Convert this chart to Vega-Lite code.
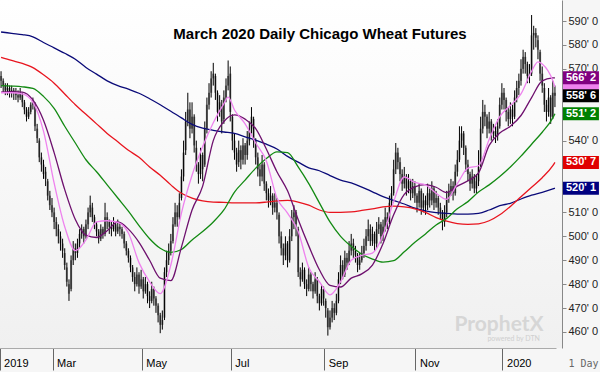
{
"$schema": "https://vega.github.io/schema/vega-lite/v6.json",
"width": 562, "height": 348,
"autosize": {"type": "none"},
"padding": {"left": 0, "top": 0, "right": 38, "bottom": 24},
"background": "#f6f6f6",
"title": {"text": "March 2020 Daily Chicago Wheat Futures", "font": "Liberation Sans", "fontSize": 15, "fontWeight": "bold", "color": "#000000", "anchor": "middle", "frame": "group", "dx": 39, "dy": 42, "offset": 0},
"config": {
  "view": {"stroke": null, "fill": {"gradient": "linear", "x1": 0, "y1": 0, "x2": 0, "y2": 1, "stops": [{"offset": 0, "color": "#ffffff"}, {"offset": 1, "color": "#f0f0f0"}]}},
  "axis": {"grid": false},
  "axisY": {"grid": false, "tickSize": 4, "tickColor": "#888888", "domainColor": "#888888", "labelFont": "Liberation Sans", "labelFontSize": 11, "labelColor": "#222222", "labelPadding": 2}
},
"datasets": {
"px": [
{"d":"2019-01-24","o":567,"h":569,"l":562,"c":565,"k":560,"p":560.3,"g":563,"r":574.8,"n":585.4},
{"d":"2019-01-25","o":565,"h":566,"l":560,"c":563},
{"d":"2019-01-28","o":563,"h":564,"l":559,"c":561},
{"d":"2019-01-29","o":561,"h":564,"l":559,"c":562},
{"d":"2019-01-30","o":562,"h":563,"l":558,"c":560},
{"d":"2019-01-31","o":560,"h":563,"l":558,"c":561,"k":560,"p":560.5,"g":562.8,"r":573.5,"n":584.8},
{"d":"2019-02-01","o":561,"h":562,"l":557,"c":560},
{"d":"2019-02-04","o":560,"h":562,"l":557,"c":559},
{"d":"2019-02-05","o":559,"h":561,"l":556,"c":558},
{"d":"2019-02-06","o":558,"h":562,"l":557,"c":560},
{"d":"2019-02-07","o":559,"h":560,"l":554,"c":556,"k":559.5,"p":560.3,"g":562.5,"r":572.3,"n":584.3},
{"d":"2019-02-08","o":556,"h":557,"l":551,"c":553},
{"d":"2019-02-11","o":553,"h":554,"l":548,"c":550},
{"d":"2019-02-12","o":550,"h":554,"l":549,"c":552},
{"d":"2019-02-13","o":552,"h":556,"l":551,"c":555},
{"d":"2019-02-14","o":555,"h":558,"l":553,"c":557,"k":556,"p":557,"g":561.8,"r":570.5,"n":583.4},
{"d":"2019-02-15","o":555,"h":556,"l":544,"c":546},
{"d":"2019-02-19","o":545,"h":547,"l":539,"c":541},
{"d":"2019-02-20","o":540,"h":541,"l":531,"c":533},
{"d":"2019-02-21","o":533,"h":535,"l":527,"c":530},
{"d":"2019-02-22","o":530,"h":532,"l":524,"c":526,"k":544,"p":548.5,"g":558.5,"r":567.5,"n":581},
{"d":"2019-02-25","o":527,"h":529,"l":521,"c":524},
{"d":"2019-02-26","o":523,"h":524,"l":515,"c":517},
{"d":"2019-02-27","o":517,"h":519,"l":511,"c":513},
{"d":"2019-02-28","o":513,"h":516,"l":508,"c":510},
{"d":"2019-03-01","o":510,"h":512,"l":503,"c":506,"k":522.3,"p":535,"g":553.5,"r":564,"n":578.8},
{"d":"2019-03-04","o":506,"h":508,"l":500,"c":503},
{"d":"2019-03-05","o":503,"h":505,"l":497,"c":500},
{"d":"2019-03-06","o":500,"h":502,"l":494,"c":497},
{"d":"2019-03-07","o":497,"h":499,"l":491,"c":494},
{"d":"2019-03-08","o":493,"h":495,"l":486,"c":488,"k":504,"p":519.5,"g":546,"r":559.5,"n":576.5},
{"d":"2019-03-11","o":487,"h":489,"l":479,"c":481},
{"d":"2019-03-12","o":480,"h":482,"l":473,"c":476},
{"d":"2019-03-13","o":478,"h":492,"l":477,"c":490},
{"d":"2019-03-14","o":490,"h":498,"l":488,"c":495},
{"d":"2019-03-15","o":495,"h":497,"l":490,"c":493,"k":494,"p":507,"g":539,"r":555,"n":574},
{"d":"2019-03-18","o":493,"h":499,"l":491,"c":497},
{"d":"2019-03-19","o":497,"h":503,"l":495,"c":501},
{"d":"2019-03-20","o":501,"h":505,"l":499,"c":503},
{"d":"2019-03-21","o":503,"h":504,"l":497,"c":500},
{"d":"2019-03-22","o":500,"h":507,"l":499,"c":505,"k":498.5,"p":500.5,"g":532,"r":551,"n":570.6},
{"d":"2019-03-25","o":505,"h":512,"l":503,"c":510},
{"d":"2019-03-26","o":510,"h":517,"l":508,"c":513},
{"d":"2019-03-27","o":512,"h":514,"l":506,"c":508},
{"d":"2019-03-28","o":508,"h":509,"l":503,"c":505},
{"d":"2019-03-29","o":505,"h":506,"l":500,"c":502,"k":506,"p":499.5,"g":527,"r":547,"n":567.8},
{"d":"2019-04-01","o":502,"h":503,"l":497,"c":499},
{"d":"2019-04-02","o":499,"h":505,"l":498,"c":503},
{"d":"2019-04-03","o":503,"h":504,"l":499,"c":501},
{"d":"2019-04-04","o":501,"h":514,"l":500,"c":508},
{"d":"2019-04-05","o":508,"h":510,"l":503,"c":506,"k":506.5,"p":502.3,"g":521.5,"r":543,"n":565},
{"d":"2019-04-08","o":506,"h":507,"l":501,"c":504},
{"d":"2019-04-09","o":504,"h":506,"l":500,"c":503},
{"d":"2019-04-10","o":503,"h":508,"l":502,"c":505},
{"d":"2019-04-11","o":505,"h":506,"l":500,"c":502},
{"d":"2019-04-12","o":502,"h":507,"l":501,"c":504,"k":505.8,"p":506,"g":516,"r":539.5,"n":563},
{"d":"2019-04-15","o":504,"h":506,"l":500,"c":503},
{"d":"2019-04-16","o":503,"h":504,"l":499,"c":501},
{"d":"2019-04-17","o":501,"h":502,"l":495,"c":497},
{"d":"2019-04-18","o":497,"h":498,"l":492,"c":494},
{"d":"2019-04-22","o":494,"h":495,"l":489,"c":491,"k":501.4,"p":503,"g":510.5,"r":536,"n":561.5},
{"d":"2019-04-23","o":491,"h":492,"l":485,"c":487},
{"d":"2019-04-24","o":487,"h":488,"l":481,"c":483},
{"d":"2019-04-25","o":483,"h":485,"l":477,"c":480},
{"d":"2019-04-26","o":480,"h":487,"l":479,"c":484},
{"d":"2019-04-29","o":484,"h":485,"l":476,"c":479,"k":489,"p":497.5,"g":504.5,"r":533,"n":559.8},
{"d":"2019-04-30","o":479,"h":486,"l":478,"c":482},
{"d":"2019-05-01","o":482,"h":483,"l":474,"c":477},
{"d":"2019-05-02","o":477,"h":483,"l":476,"c":480},
{"d":"2019-05-03","o":480,"h":481,"l":472,"c":475},
{"d":"2019-05-06","o":475,"h":477,"l":470,"c":473,"k":481,"p":490,"g":499,"r":529,"n":557.5},
{"d":"2019-05-07","o":473,"h":481,"l":472,"c":478},
{"d":"2019-05-08","o":478,"h":479,"l":471,"c":474},
{"d":"2019-05-09","o":474,"h":475,"l":468,"c":471},
{"d":"2019-05-10","o":471,"h":472,"l":464,"c":467},
{"d":"2019-05-13","o":467,"h":468,"l":459.5,"c":463,"k":476,"p":482.5,"g":495,"r":525.5,"n":555},
{"d":"2019-05-14","o":463,"h":469,"l":461,"c":465},
{"d":"2019-05-15","o":466,"h":487,"l":465,"c":485},
{"d":"2019-05-16","o":485,"h":494,"l":483,"c":490},
{"d":"2019-05-17","o":490,"h":497,"l":488,"c":494},
{"d":"2019-05-20","o":494,"h":501,"l":492,"c":498,"k":488,"p":481.5,"g":493.3,"r":521.5,"n":552.3},
{"d":"2019-05-21","o":498,"h":508,"l":497,"c":505},
{"d":"2019-05-22","o":505,"h":514,"l":504,"c":510},
{"d":"2019-05-23","o":510,"h":513,"l":504,"c":508},
{"d":"2019-05-24","o":508,"h":518,"l":507,"c":514},
{"d":"2019-05-28","o":516,"h":528,"l":515,"c":525,"k":509.7,"p":495.5,"g":494.5,"r":518,"n":549.5},
{"d":"2019-05-29","o":525,"h":540,"l":523,"c":535},
{"d":"2019-05-30","o":536,"h":552,"l":534,"c":548},
{"d":"2019-05-31","o":548,"h":560,"l":546,"c":553},
{"d":"2019-06-03","o":553,"h":556,"l":541,"c":545},
{"d":"2019-06-04","o":545,"h":556,"l":543,"c":550,"k":525.5,"p":511,"g":498.5,"r":516,"n":546.8},
{"d":"2019-06-05","o":550,"h":551,"l":535,"c":538},
{"d":"2019-06-06","o":537,"h":540,"l":527,"c":530},
{"d":"2019-06-07","o":530,"h":531,"l":522,"c":526},
{"d":"2019-06-10","o":526,"h":537,"l":524,"c":534},
{"d":"2019-06-11","o":534,"h":535,"l":523,"c":528,"k":537.5,"p":521,"g":502,"r":514.8,"n":545.2},
{"d":"2019-06-12","o":530,"h":548,"l":529,"c":545},
{"d":"2019-06-13","o":545,"h":558,"l":543,"c":555},
{"d":"2019-06-14","o":555,"h":564,"l":553,"c":560},
{"d":"2019-06-17","o":560,"h":569,"l":558,"c":566},
{"d":"2019-06-18","o":566,"h":572.5,"l":563,"c":568,"k":547.5,"p":540,"g":506,"r":514.3,"n":544.3},
{"d":"2019-06-19","o":567,"h":568,"l":557,"c":560},
{"d":"2019-06-20","o":560,"h":561,"l":548,"c":552},
{"d":"2019-06-21","o":552,"h":559,"l":550,"c":556},
{"d":"2019-06-24","o":555,"h":557,"l":543,"c":548},
{"d":"2019-06-25","o":549,"h":561,"l":547,"c":558,"k":555.5,"p":548,"g":511,"r":514.2,"n":543.6},
{"d":"2019-06-26","o":558,"h":566,"l":556,"c":563},
{"d":"2019-06-27","o":563,"h":573.5,"l":561,"c":567,"k":558.2},
{"d":"2019-06-28","o":568,"h":571,"l":548,"c":552},
{"d":"2019-07-01","o":550,"h":551,"l":536,"c":540},
{"d":"2019-07-02","o":540,"h":543,"l":532,"c":535,"k":552.8,"p":550.8,"g":518.5,"r":514,"n":543},
{"d":"2019-07-03","o":535,"h":537,"l":527,"c":530},
{"d":"2019-07-05","o":531,"h":540,"l":529,"c":536},
{"d":"2019-07-08","o":536,"h":538,"l":528,"c":532},
{"d":"2019-07-09","o":532,"h":541,"l":530,"c":538},
{"d":"2019-07-10","o":538,"h":539,"l":530,"c":534,"k":547,"p":549,"g":523.5,"r":514,"n":541.6},
{"d":"2019-07-11","o":534,"h":544,"l":532,"c":540},
{"d":"2019-07-12","o":540,"h":548,"l":538,"c":545},
{"d":"2019-07-15","o":545,"h":554,"l":543,"c":550},
{"d":"2019-07-16","o":549,"h":550,"l":537,"c":540},
{"d":"2019-07-17","o":540,"h":541,"l":530,"c":533,"k":539,"p":545,"g":528.5,"r":514,"n":540.2},
{"d":"2019-07-18","o":533,"h":535,"l":525,"c":528},
{"d":"2019-07-19","o":528,"h":530,"l":521,"c":525},
{"d":"2019-07-22","o":525,"h":534,"l":523,"c":530},
{"d":"2019-07-23","o":530,"h":531,"l":519,"c":522},
{"d":"2019-07-24","o":522,"h":523,"l":515,"c":518,"k":531.5,"p":536.5,"g":532.5,"r":514.3,"n":538.5},
{"d":"2019-07-25","o":518,"h":520,"l":512,"c":515},
{"d":"2019-07-26","o":515,"h":521,"l":513,"c":517},
{"d":"2019-07-29","o":517,"h":518,"l":509,"c":512},
{"d":"2019-07-30","o":512,"h":518,"l":510,"c":514},
{"d":"2019-07-31","o":514,"h":516,"l":507,"c":510,"k":516,"p":527,"g":535.3,"r":514.8,"n":536.5},
{"d":"2019-08-01","o":509,"h":510,"l":497,"c":500},
{"d":"2019-08-02","o":500,"h":502,"l":492,"c":495},
{"d":"2019-08-05","o":495,"h":497,"l":488,"c":492},
{"d":"2019-08-06","o":492,"h":500,"l":490,"c":497},
{"d":"2019-08-07","o":497,"h":498,"l":487,"c":490,"k":509.7,"p":519,"g":535,"r":515,"n":533.4},
{"d":"2019-08-08","o":490,"h":503,"l":489,"c":500},
{"d":"2019-08-09","o":500,"h":511,"l":498,"c":508},
{"d":"2019-08-12","o":508,"h":513,"l":503,"c":510},
{"d":"2019-08-13","o":510,"h":511,"l":500,"c":505},
{"d":"2019-08-14","o":503,"h":504,"l":483,"c":485,"k":502,"p":507,"g":529,"r":514.3,"n":531},
{"d":"2019-08-15","o":485,"h":487,"l":479,"c":482},
{"d":"2019-08-16","o":482,"h":489,"l":481,"c":486},
{"d":"2019-08-19","o":486,"h":487,"l":478,"c":480},
{"d":"2019-08-20","o":480,"h":482,"l":475,"c":478},
{"d":"2019-08-21","o":478,"h":487,"l":477,"c":484,"k":487,"p":496,"g":522,"r":513,"n":528.6},
{"d":"2019-08-22","o":484,"h":485,"l":477,"c":480},
{"d":"2019-08-23","o":480,"h":481,"l":474,"c":477},
{"d":"2019-08-26","o":477,"h":485,"l":476,"c":482},
{"d":"2019-08-27","o":482,"h":483,"l":472,"c":475},
{"d":"2019-08-28","o":475,"h":476,"l":469,"c":472,"k":481,"p":486,"g":514,"r":511,"n":527.4},
{"d":"2019-08-29","o":472,"h":480,"l":471,"c":478},
{"d":"2019-08-30","o":478,"h":479,"l":471,"c":474},
{"d":"2019-09-03","o":473,"h":474,"l":466,"c":470},
{"d":"2019-09-04","o":469,"h":470,"l":458.5,"c":462},
{"d":"2019-09-05","o":462,"h":469,"l":461,"c":466,"k":475.5,"p":479.5,"g":506,"r":510,"n":525.4},
{"d":"2019-09-06","o":466,"h":473,"l":464,"c":470},
{"d":"2019-09-09","o":470,"h":472,"l":465,"c":468},
{"d":"2019-09-10","o":468,"h":476,"l":467,"c":473},
{"d":"2019-09-11","o":473,"h":485,"l":472,"c":482},
{"d":"2019-09-12","o":482,"h":492,"l":480,"c":488,"k":481,"p":478.8,"g":500,"r":510,"n":523.5},
{"d":"2019-09-13","o":488,"h":490,"l":482,"c":484},
{"d":"2019-09-16","o":484,"h":494,"l":483,"c":491},
{"d":"2019-09-17","o":491,"h":493,"l":486,"c":489},
{"d":"2019-09-18","o":489,"h":498,"l":488,"c":494},
{"d":"2019-09-19","o":494,"h":501,"l":492,"c":497,"k":490,"p":482.5,"g":495.8,"r":510.2,"n":522.3},
{"d":"2019-09-20","o":497,"h":499,"l":491,"c":494},
{"d":"2019-09-23","o":494,"h":496,"l":489,"c":492},
{"d":"2019-09-24","o":492,"h":493,"l":485,"c":488},
{"d":"2019-09-25","o":488,"h":493,"l":486,"c":490},
{"d":"2019-09-26","o":490,"h":496,"l":489,"c":493,"k":492,"p":484.3,"g":492.5,"r":510.8,"n":520.6},
{"d":"2019-09-27","o":493,"h":499,"l":491,"c":496},
{"d":"2019-09-30","o":496,"h":503,"l":494,"c":500},
{"d":"2019-10-01","o":500,"h":507,"l":498,"c":503},
{"d":"2019-10-02","o":503,"h":505,"l":496,"c":498},
{"d":"2019-10-03","o":498,"h":504,"l":496,"c":501,"k":493,"p":488,"g":490.5,"r":511.5,"n":518.6},
{"d":"2019-10-04","o":501,"h":502,"l":494,"c":497},
{"d":"2019-10-07","o":497,"h":506,"l":495,"c":503},
{"d":"2019-10-08","o":503,"h":508,"l":501,"c":505},
{"d":"2019-10-09","o":505,"h":506,"l":497,"c":500},
{"d":"2019-10-10","o":500,"h":507,"l":498,"c":504,"k":500.5,"p":497,"g":489.2,"r":512.3,"n":516.6},
{"d":"2019-10-11","o":504,"h":512,"l":502,"c":508},
{"d":"2019-10-14","o":508,"h":510,"l":503,"c":506},
{"d":"2019-10-15","o":506,"h":517,"l":505,"c":514},
{"d":"2019-10-16","o":514,"h":521,"l":512,"c":518},
{"d":"2019-10-17","o":518,"h":532,"l":517,"c":528,"k":514.5,"p":509,"g":489.8,"r":512.6,"n":515},
{"d":"2019-10-18","o":528,"h":539,"l":526,"c":535},
{"d":"2019-10-21","o":535,"h":537,"l":528,"c":531},
{"d":"2019-10-22","o":531,"h":533,"l":523,"c":526},
{"d":"2019-10-23","o":526,"h":528,"l":519,"c":522},
{"d":"2019-10-24","o":522,"h":529,"l":520,"c":525,"k":524.8,"p":517.5,"g":493.5,"r":512.3,"n":513.5},
{"d":"2019-10-25","o":525,"h":526,"l":517,"c":520},
{"d":"2019-10-28","o":520,"h":526,"l":518,"c":523},
{"d":"2019-10-29","o":523,"h":524,"l":515,"c":518},
{"d":"2019-10-30","o":518,"h":524,"l":516,"c":521},
{"d":"2019-10-31","o":521,"h":523,"l":514,"c":517,"k":522.5,"p":520.7,"g":497.5,"r":511.5,"n":511.8},
{"d":"2019-11-01","o":517,"h":518,"l":510,"c":514},
{"d":"2019-11-04","o":514,"h":522,"l":512,"c":519},
{"d":"2019-11-05","o":519,"h":520,"l":509,"c":512},
{"d":"2019-11-06","o":512,"h":518,"l":510,"c":515},
{"d":"2019-11-07","o":515,"h":517,"l":509,"c":513,"k":521.5,"p":521.6,"g":501,"r":510,"n":510.6},
{"d":"2019-11-08","o":513,"h":522,"l":511,"c":518},
{"d":"2019-11-11","o":518,"h":520,"l":512,"c":515},
{"d":"2019-11-12","o":515,"h":523,"l":513,"c":520},
{"d":"2019-11-13","o":520,"h":521,"l":511,"c":514},
{"d":"2019-11-14","o":514,"h":519,"l":512,"c":516,"k":518,"p":520.5,"g":504.7,"r":507.8,"n":509.9},
{"d":"2019-11-15","o":516,"h":517,"l":509,"c":512},
{"d":"2019-11-18","o":512,"h":514,"l":507,"c":510},
{"d":"2019-11-19","o":510,"h":511,"l":502.5,"c":506},
{"d":"2019-11-20","o":506,"h":513,"l":504,"c":510},
{"d":"2019-11-21","o":510,"h":519,"l":508,"c":516,"k":515.5,"p":518.3,"g":507.5,"r":506.3,"n":509.6},
{"d":"2019-11-22","o":516,"h":522,"l":514,"c":519},
{"d":"2019-11-25","o":519,"h":524,"l":517,"c":521},
{"d":"2019-11-26","o":521,"h":523,"l":515,"c":518},
{"d":"2019-11-27","o":518,"h":530,"l":517,"c":527},
{"d":"2019-11-29","o":527,"h":536,"l":525,"c":532,"k":522,"p":521,"g":511.5,"r":505.3,"n":509.3},
{"d":"2019-12-02","o":532,"h":546,"l":531,"c":540},
{"d":"2019-12-03","o":540,"h":546,"l":537,"c":543},
{"d":"2019-12-04","o":543,"h":544,"l":534,"c":537},
{"d":"2019-12-05","o":537,"h":538,"l":527,"c":530},
{"d":"2019-12-06","o":530,"h":532,"l":523,"c":526,"k":528.5,"p":523.2,"g":514.5,"r":505,"n":509.3},
{"d":"2019-12-09","o":526,"h":527,"l":519,"c":522},
{"d":"2019-12-10","o":522,"h":528,"l":520,"c":525},
{"d":"2019-12-11","o":525,"h":526,"l":518,"c":520},
{"d":"2019-12-12","o":520,"h":526,"l":518,"c":523},
{"d":"2019-12-13","o":523,"h":536,"l":521,"c":529,"k":529.5,"p":526.5,"g":518.5,"r":505.2,"n":509.6},
{"d":"2019-12-16","o":530,"h":550,"l":529,"c":545},
{"d":"2019-12-17","o":545,"h":557,"l":543,"c":552},
{"d":"2019-12-18","o":552,"h":555,"l":546,"c":550},
{"d":"2019-12-19","o":550,"h":551,"l":541,"c":545},
{"d":"2019-12-20","o":545,"h":552,"l":543,"c":548,"k":540.5,"p":538,"g":521.5,"r":506.5,"n":511},
{"d":"2019-12-23","o":548,"h":549,"l":540,"c":543},
{"d":"2019-12-24","o":543,"h":547,"l":541,"c":544},
{"d":"2019-12-26","o":544,"h":546,"l":539,"c":542},
{"d":"2019-12-27","o":542,"h":549,"l":540,"c":546},
{"d":"2019-12-30","o":546,"h":558,"l":545,"c":555,"k":550,"p":543.2,"g":525,"r":509,"n":512.8},
{"d":"2019-12-31","o":555,"h":564,"l":553,"c":560},
{"d":"2020-01-02","o":560,"h":562,"l":553,"c":557},
{"d":"2020-01-03","o":557,"h":558,"l":548,"c":552},
{"d":"2020-01-06","o":552,"h":554,"l":546,"c":549},
{"d":"2020-01-07","o":549,"h":556,"l":547,"c":553,"k":554.7,"p":546,"g":529,"r":512.5,"n":513.8},
{"d":"2020-01-08","o":553,"h":555,"l":546,"c":550},
{"d":"2020-01-09","o":550,"h":561,"l":549,"c":558},
{"d":"2020-01-10","o":558,"h":565,"l":556,"c":562},
{"d":"2020-01-13","o":562,"h":568,"l":559,"c":565},
{"d":"2020-01-14","o":565,"h":574,"l":563,"c":570,"k":559.5,"p":550.5,"g":533.5,"r":516.5,"n":515.6},
{"d":"2020-01-15","o":570,"h":578,"l":568,"c":575},
{"d":"2020-01-16","o":575,"h":577,"l":568,"c":572},
{"d":"2020-01-17","o":572,"h":573,"l":564,"c":567},
{"d":"2020-01-21","o":567,"h":572,"l":564,"c":568},
{"d":"2020-01-22","o":568,"h":592.5,"l":567,"c":584,"k":569,"p":558,"g":538.5,"r":520.5,"n":517.2},
{"d":"2020-01-23","o":584,"h":588,"l":578,"c":585},
{"d":"2020-01-24","o":585,"h":587,"l":579,"c":583},
{"d":"2020-01-27","o":582,"h":584,"l":574,"c":578,"k":572.9},
{"d":"2020-01-28","o":577,"h":578,"l":565,"c":568},
{"d":"2020-01-29","o":568,"h":571,"l":560,"c":563,"k":572,"p":565,"g":543.5,"r":524.5,"n":518.4},
{"d":"2020-01-30","o":562,"h":564,"l":552,"c":555},
{"d":"2020-01-31","o":555,"h":557,"l":548,"c":552},
{"d":"2020-02-03","o":552,"h":562,"l":550,"c":558},
{"d":"2020-02-04","o":558,"h":559,"l":547,"c":550},
{"d":"2020-02-05","o":550,"h":565,"l":549,"c":560,"k":565,"p":566.2,"g":549.5,"r":529.5,"n":519.8},
{"d":"2020-02-06","o":560,"h":563,"l":554,"c":558.75,"k":562.4,"p":566.25,"g":551.25,"r":530.875,"n":520.125}
],
"tags": [
{"d":"2020-02-06","lab":"","v":562.4,"col":"#ee82ee"},
{"d":"2020-02-06","lab":"520' 1","v":520.125,"col":"#000080"},
{"d":"2020-02-06","lab":"530' 7","v":530.875,"col":"#e00000"},
{"d":"2020-02-06","lab":"551' 2","v":551.25,"col":"#008000"},
{"d":"2020-02-06","lab":"558' 6","v":558.75,"col":"#000000"},
{"d":"2020-02-06","lab":"566' 2","v":566.25,"col":"#800080"}
]
},
"data": {"name": "px"},
"encoding": {
  "x": {"field": "d", "type": "ordinal",
    "scale": {"type": "band", "paddingInner": 0, "paddingOuter": 0, "range": [0, 556]},
    "axis": {"values": ["2019-01-24","2019-03-01","2019-05-01","2019-07-01","2019-09-03","2019-11-01","2020-01-02"],
      "labelExpr": "datum.value=='2019-01-24'?'2019':datum.value=='2020-01-02'?'2020':datum.value=='2019-03-01'?'Mar':datum.value=='2019-05-01'?'May':datum.value=='2019-07-01'?'Jul':datum.value=='2019-09-03'?'Sep':'Nov'",
      "bandPosition": 0, "labelAngle": 0, "labelAlign": "left", "labelBaseline": "middle", "labelOffset": 3, "labelPadding": -7,
      "labelOverlap": false, "labelBound": false, "labelFlush": false,
      "tickSize": 22, "tickColor": "#666666", "domainColor": "#aaaaaa",
      "labelFont": "Liberation Sans", "labelFontSize": 11, "labelColor": "#000000",
      "title": "1 Day", "titleX": 568, "titleY": 15, "titleAlign": "left", "titleBaseline": "middle", "titleAnchor": "start",
      "titleFont": "DejaVu Sans Mono", "titleFontSize": 10, "titleFontWeight": "normal", "titleColor": "#666666"}}
},
"layer": [
  {"mark": {"type": "bar", "color": "#8c8c8c", "width": {"band": 1}},
   "encoding": {"y": {"field": "o", "type": "quantitative", "scale": {"domain": [453.31, 598.78], "nice": false, "zero": false},
      "axis": {"orient": "right", "values": [460,470,480,490,500,510,540,570,580,590], "labelExpr": "datum.value + \"' 0\"", "title": null}},
     "y2": {"field": "c"}}},
  {"mark": {"type": "rule", "color": "#000000", "strokeWidth": 1},
   "encoding": {"y": {"field": "l", "type": "quantitative", "scale": {"domain": [453.31, 598.78], "nice": false, "zero": false},
      "axis": {"orient": "right", "values": [460,470,480,490,500,510,540,570,580,590], "labelExpr": "datum.value + \"' 0\"", "title": null}},
     "y2": {"field": "h"}}},
  {"transform": [{"filter": "isValid(datum.n)"}],
   "mark": {"type": "line", "color": "#0a0a78", "strokeWidth": 1.3, "interpolate": "monotone"},
   "encoding": {"y": {"field": "n", "type": "quantitative", "scale": {"domain": [453.31, 598.78], "nice": false, "zero": false},
      "axis": {"orient": "right", "values": [460,470,480,490,500,510,540,570,580,590], "labelExpr": "datum.value + \"' 0\"", "title": null}}}},
  {"transform": [{"filter": "isValid(datum.r)"}],
   "mark": {"type": "line", "color": "#e8141e", "strokeWidth": 1.3, "interpolate": "monotone"},
   "encoding": {"y": {"field": "r", "type": "quantitative", "scale": {"domain": [453.31, 598.78], "nice": false, "zero": false},
      "axis": {"orient": "right", "values": [460,470,480,490,500,510,540,570,580,590], "labelExpr": "datum.value + \"' 0\"", "title": null}}}},
  {"transform": [{"filter": "isValid(datum.g)"}],
   "mark": {"type": "line", "color": "#138a13", "strokeWidth": 1.3, "interpolate": "monotone"},
   "encoding": {"y": {"field": "g", "type": "quantitative", "scale": {"domain": [453.31, 598.78], "nice": false, "zero": false},
      "axis": {"orient": "right", "values": [460,470,480,490,500,510,540,570,580,590], "labelExpr": "datum.value + \"' 0\"", "title": null}}}},
  {"transform": [{"filter": "isValid(datum.p)"}],
   "mark": {"type": "line", "color": "#6e106e", "strokeWidth": 1.3, "interpolate": "monotone"},
   "encoding": {"y": {"field": "p", "type": "quantitative", "scale": {"domain": [453.31, 598.78], "nice": false, "zero": false},
      "axis": {"orient": "right", "values": [460,470,480,490,500,510,540,570,580,590], "labelExpr": "datum.value + \"' 0\"", "title": null}}}},
  {"transform": [{"filter": "isValid(datum.k)"}],
   "mark": {"type": "line", "color": "#ee82ee", "strokeWidth": 1.3, "interpolate": "monotone"},
   "encoding": {"y": {"field": "k", "type": "quantitative", "scale": {"domain": [453.31, 598.78], "nice": false, "zero": false},
      "axis": {"orient": "right", "values": [460,470,480,490,500,510,540,570,580,590], "labelExpr": "datum.value + \"' 0\"", "title": null}}}},
  {"transform": [{"filter": "datum.d == '2019-12-02'"}],
   "mark": {"type": "text", "text": "ProphetX", "font": "Lato", "fontSize": 21, "fontWeight": "bold", "color": "#d6d6d6", "align": "left", "baseline": "middle", "dx": -5},
   "encoding": {"y": {"datum": 462.9, "type": "quantitative", "scale": {"domain": [453.31, 598.78], "nice": false, "zero": false},
      "axis": {"orient": "right", "values": [460,470,480,490,500,510,540,570,580,590], "labelExpr": "datum.value + \"' 0\"", "title": null}}}},
  {"transform": [{"filter": "datum.d == '2019-12-02'"}],
   "mark": {"type": "text", "text": "powered by DTN", "font": "Lato", "fontSize": 7, "color": "#cfcfcf", "align": "left", "baseline": "middle", "dx": 28},
   "encoding": {"y": {"datum": 457.0, "type": "quantitative", "scale": {"domain": [453.31, 598.78], "nice": false, "zero": false},
      "axis": {"orient": "right", "values": [460,470,480,490,500,510,540,570,580,590], "labelExpr": "datum.value + \"' 0\"", "title": null}}}},
  {"data": {"name": "tags"},
   "mark": {"type": "point", "shape": "M0,-0.18L1,-0.18L1,0.18L0,0.18Z", "size": 5184, "filled": true, "opacity": 1, "strokeWidth": 0, "xOffset": 8},
   "encoding": {"y": {"field": "v", "type": "quantitative", "scale": {"domain": [453.31, 598.78], "nice": false, "zero": false},
      "axis": {"orient": "right", "values": [460,470,480,490,500,510,540,570,580,590], "labelExpr": "datum.value + \"' 0\"", "title": null}},
     "color": {"field": "col", "type": "nominal", "scale": null, "legend": null}}},
  {"data": {"name": "tags"},
   "transform": [{"filter": "datum.lab != ''"}],
   "mark": {"type": "text", "align": "left", "baseline": "middle", "dx": 11, "font": "Liberation Sans", "fontSize": 11, "fontWeight": "bold", "color": "#ffffff"},
   "encoding": {"y": {"field": "v", "type": "quantitative", "scale": {"domain": [453.31, 598.78], "nice": false, "zero": false},
      "axis": {"orient": "right", "values": [460,470,480,490,500,510,540,570,580,590], "labelExpr": "datum.value + \"' 0\"", "title": null}},
     "text": {"field": "lab"}}}
]
}
